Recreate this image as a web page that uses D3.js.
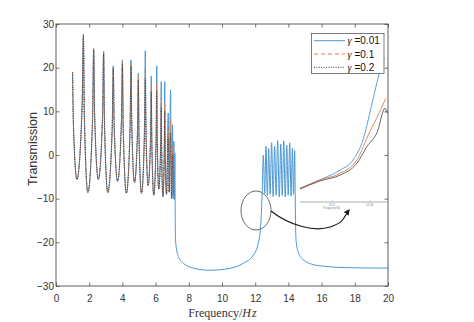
<!DOCTYPE html>
<html>
<head>
<meta charset="utf-8">
<script src="https://cdn.jsdelivr.net/npm/d3@7"></script>
<style>
  html, body { margin: 0; padding: 0; background: #fff; }
  svg { display: block; }
</style>
</head>
<body>
<svg id="chart" width="474" height="322"></svg>
<script>
// ---- axis ticks ----
const xTicks = [0, 2, 4, 6, 8, 10, 12, 14, 16, 18, 20];
const yTicks = [-30, -20, -10, 0, 10, 20, 30];
const gammaLabels = ["0.01", "0.1", "0.2"];

// ---- transmission (dB) against frequency (Hz) ----
const transG001 = [
  [1.00,19.0],[1.052,6.7],[1.26,-5.6],[1.572,11.1],[1.65,27.7],[1.704,9.6],[1.92,-8.6],
  [2.20,7.9],[2.27,24.4],[2.326,9.4],[2.55,-5.6],[2.806,9.1],[2.87,23.8],[2.92,7.6],[3.12,-8.6],
  [3.384,5.9],[3.45,20.4],[3.502,7.2],[3.71,-6.0],[3.942,7.9],[4.00,21.8],[4.048,6.6],[4.24,-8.7],
  [4.464,6.6],[4.52,21.8],[4.562,7.8],[4.73,-6.3],[4.914,6.2],[4.96,18.7],[4.998,5.0],[5.15,-8.8],
  [5.334,7.6],[5.38,23.9],[5.414,8.5],[5.55,-7.0],[5.702,5.6],[5.74,18.1],[5.77,4.5],[5.89,-9.2],
  [6.034,5.6],[6.07,20.4],[6.094,6.3],[6.19,-7.8],[6.31,4.5],[6.34,16.8],[6.36,3.7],[6.44,-9.5],
  [6.528,3.7],[6.55,16.8],[6.572,3.9],[6.66,-9.0],[6.76,9.6],[6.82,-8.5],[6.90,14.9],[6.96,-10.0],
  [7.02,6.9],[7.06,-10.0],[7.10,3.1],[7.13,-10.2],[7.16,0.5],[7.18,-12.0],[7.19,-17.0],[7.21,-20.0],
  [7.37,-23.2],[7.67,-24.8],[8.27,-25.9],[9.28,-26.4],[10.28,-26.1],[11.28,-24.8],[11.89,-22.9],
  [12.19,-20.2],[12.35,-14.9],[12.42,-8.5],[12.49,0.0],[12.57,-8.8],[12.65,2.0],[12.73,-9.3],
  [12.81,1.5],[12.90,-9.0],[12.99,2.8],[13.08,-9.5],[13.17,2.0],[13.26,-9.2],[13.35,3.3],[13.45,-9.6],
  [13.54,2.5],[13.63,-9.3],[13.72,3.2],[13.81,-9.6],[13.90,2.2],[13.99,-9.2],[14.08,2.8],[14.16,-9.4],
  [14.24,1.5],[14.31,-9.0],[14.38,1.0],[14.41,-9.0],[14.43,-15.0],[14.46,-19.5],[14.6,-22.3],
  [14.9,-24.0],[15.4,-25.0],[16.2,-25.5],[17.5,-25.8],[20,-25.9]
];

const transG01 = [
  [1.00,19.0],[1.052,6.7],[1.26,-5.6],[1.572,11.0],[1.65,27.5],[1.704,9.5],[1.92,-8.6],
  [2.20,7.8],[2.27,24.2],[2.326,9.3],[2.55,-5.6],[2.806,9.0],[2.87,23.5],[2.92,7.5],[3.12,-8.6],
  [3.384,5.8],[3.45,20.2],[3.502,7.1],[3.71,-6.0],[3.942,7.7],[4.00,21.3],[4.048,6.3],[4.24,-8.7],
  [4.464,6.2],[4.52,21.0],[4.562,7.4],[4.73,-6.3],[4.914,5.9],[4.96,18.0],[4.998,4.6],[5.15,-8.8],
  [5.334,5.4],[5.38,19.5],[5.414,6.3],[5.55,-7.0],[5.702,4.5],[5.74,16.0],[5.77,3.4],[5.89,-9.2],
  [6.034,3.7],[6.07,16.5],[6.094,4.4],[6.19,-7.8],[6.31,2.6],[6.34,13.0],[6.36,1.8],[6.44,-9.5],
  [6.528,1.3],[6.55,12.0],[6.572,1.5],[6.66,-9.0],[6.76,6.0],[6.82,-8.5],[6.90,8.0],[6.96,-10.0],
  [7.02,2.0],[7.06,-9.5]
];

const transG02 = [
  [1.00,18.9],[1.052,6.6],[1.26,-5.6],[1.572,10.9],[1.65,27.3],[1.704,9.4],[1.92,-8.6],
  [2.20,7.7],[2.27,24.0],[2.326,9.2],[2.55,-5.6],[2.806,8.8],[2.87,23.2],[2.92,7.3],[3.12,-8.6],
  [3.384,5.7],[3.45,19.9],[3.502,7.0],[3.71,-6.0],[3.942,7.4],[4.00,20.8],[4.048,6.0],[4.24,-8.7],
  [4.464,5.8],[4.52,20.3],[4.562,7.0],[4.73,-6.3],[4.914,5.5],[4.96,17.2],[4.998,4.2],[5.15,-8.8],
  [5.334,4.4],[5.38,17.5],[5.414,5.3],[5.55,-7.0],[5.702,3.8],[5.74,14.5],[5.77,2.7],[5.89,-9.2],
  [6.034,2.7],[6.07,14.5],[6.094,3.4],[6.19,-7.8],[6.31,1.6],[6.34,11.0],[6.36,0.8],[6.44,-9.5],
  [6.528,0.3],[6.55,10.0],[6.572,0.5],[6.66,-9.0],[6.76,4.0],[6.82,-8.5],[6.90,5.0],[6.96,-10.0],
  [7.02,0.0],[7.06,-9.3]
];

// ---- magnified view of the band edge near 12.3 Hz ----
const insetXTicks = [12.3, 12.35];
const insetG001 = [[12.258,-22.65],[12.289,-21.66],[12.311,-20.85],[12.328,-19.86],[12.341,-17.89],[12.352,-14.60],[12.362,-11.48],[12.369,-9.80]];
const insetG01  = [[12.258,-22.67],[12.284,-21.83],[12.311,-21.17],[12.333,-19.86],[12.350,-17.07],[12.359,-15.75],[12.371,-13.78]];
const insetG02  = [[12.258,-22.72],[12.284,-21.93],[12.311,-21.34],[12.333,-20.18],[12.346,-18.55],[12.360,-17.07],[12.370,-14.76],[12.373,-15.25]];

// ---- styling ----
const colors = ["#4a97d4", "#e27d52", "#3a3a3a"];
const dashes = [null, "4,3", "1,1.4"];
const axisColor = "#4d4d4d";
const textColor = "#333";

const svg = d3.select("#chart");
const m = { left: 56, right: 388, top: 24, bottom: 286 };

const x = d3.scaleLinear().domain([0, 20]).range([m.left, m.right]);
const y = d3.scaleLinear().domain([-30, 30]).range([m.bottom, m.top]);

svg.append("defs").append("clipPath").attr("id", "plotClip")
  .append("rect")
  .attr("x", m.left).attr("y", m.top)
  .attr("width", m.right - m.left).attr("height", m.bottom - m.top);

// ---- series ----
const line = d3.line()
  .x(d => x(d[0])).y(d => y(d[1]))
  .curve(d3.curveMonotoneX);

const seriesG = svg.append("g").attr("clip-path", "url(#plotClip)");
[transG001, transG01, transG02].forEach((data, i) => {
  seriesG.append("path")
    .datum(data)
    .attr("d", line)
    .attr("fill", "none")
    .attr("stroke", colors[i])
    .attr("stroke-width", 1)
    .attr("stroke-dasharray", dashes[i]);
});

// ---- axes (ticks on all four sides, pointing inward) ----
const tick = 3.5;
function styleAxis(g) {
  g.select(".domain").remove();
  g.selectAll(".tick line").attr("stroke", axisColor).attr("stroke-width", 0.8);
  g.selectAll(".tick text")
    .attr("fill", textColor)
    .style("font-family", "'Liberation Sans', Arial, sans-serif")
    .style("font-size", "10px");
}

svg.append("g")
  .attr("transform", `translate(0,${m.bottom})`)
  .call(d3.axisBottom(x).tickValues(xTicks).tickSizeInner(-tick).tickSizeOuter(0).tickPadding(9))
  .call(styleAxis);

svg.append("g")
  .attr("transform", `translate(0,${m.top})`)
  .call(d3.axisTop(x).tickValues(xTicks).tickSizeInner(-tick).tickSizeOuter(0).tickFormat(""))
  .call(styleAxis);

svg.append("g")
  .attr("transform", `translate(${m.left},0)`)
  .call(d3.axisLeft(y).tickValues(yTicks).tickSizeInner(-tick).tickSizeOuter(0).tickPadding(2))
  .call(styleAxis);

svg.append("g")
  .attr("transform", `translate(${m.right},0)`)
  .call(d3.axisRight(y).tickValues(yTicks).tickSizeInner(-tick).tickSizeOuter(0).tickFormat(""))
  .call(styleAxis);

svg.append("rect")
  .attr("x", m.left).attr("y", m.top)
  .attr("width", m.right - m.left).attr("height", m.bottom - m.top)
  .attr("fill", "none").attr("stroke", axisColor).attr("stroke-width", 0.9);

// ---- axis titles ----
svg.append("text")
  .attr("transform", `translate(36.5,${(m.top + m.bottom) / 2 - 6}) rotate(-90)`)
  .attr("text-anchor", "middle")
  .attr("fill", textColor)
  .style("font-family", "'Liberation Sans', Arial, sans-serif")
  .style("font-size", "12.5px")
  .text("Transmission");

const xTitle = svg.append("text")
  .attr("x", (m.left + m.right) / 2 + 0.5).attr("y", 316.5)
  .attr("text-anchor", "middle")
  .attr("fill", textColor)
  .style("font-family", "'Liberation Serif', 'DejaVu Serif', serif")
  .style("font-size", "12px");
xTitle.append("tspan").text("Frequency/");
xTitle.append("tspan").style("font-style", "italic").text("H");
xTitle.append("tspan").style("font-style", "italic").attr("dx", 1).text("z");

// ---- callout: ellipse and curved arrow ----
svg.append("ellipse")
  .attr("cx", 256).attr("cy", 210.5).attr("rx", 15).attr("ry", 19.5)
  .attr("fill", "none").attr("stroke", "#6a6a6a").attr("stroke-width", 1);

svg.select("defs").append("marker")
  .attr("id", "arrowHead")
  .attr("viewBox", "0 0 10 10").attr("refX", 8).attr("refY", 5)
  .attr("markerWidth", 5).attr("markerHeight", 5).attr("orient", "auto")
  .append("path").attr("d", "M0,0 L10,5 L0,10 Z").attr("fill", "#1a1a1a");

svg.append("path")
  .attr("d", "M271,211 C290,226 315,232 330,227 S343,218 349,210")
  .attr("fill", "none").attr("stroke", "#1a1a1a").attr("stroke-width", 1.2)
  .attr("marker-end", "url(#arrowHead)");

// ---- magnified inset ----
const ix = d3.scaleLinear().domain([12.258, 12.374]).range([300, 388]);
const iy = d3.scaleLinear().domain([-24, -10]).range([202, 60]);
const inset = svg.append("g");

inset.append("line")
  .attr("x1", 300).attr("x2", 388).attr("y1", iy(-24)).attr("y2", iy(-24))
  .attr("stroke", "#9a9a9a").attr("stroke-width", 0.8);
inset.selectAll(".itick").data(insetXTicks).enter().append("line")
  .attr("x1", d => ix(d)).attr("x2", d => ix(d))
  .attr("y1", iy(-24)).attr("y2", iy(-24) - 1.5)
  .attr("stroke", "#9a9a9a").attr("stroke-width", 0.6);
inset.selectAll(".ilab").data(insetXTicks).enter().append("text")
  .attr("x", d => ix(d)).attr("y", iy(-24) + 3.5)
  .attr("text-anchor", "middle").attr("fill", "#777")
  .style("font-family", "'Liberation Sans', Arial, sans-serif")
  .style("font-size", "3px")
  .text(d => d);
inset.append("text")
  .attr("x", ix(12.3)).attr("y", iy(-24) + 6.5)
  .attr("text-anchor", "middle").attr("fill", "#777")
  .style("font-family", "'Liberation Serif', serif")
  .style("font-size", "3px")
  .text("Frequency/Hz");

const iline = d3.line().x(d => ix(d[0])).y(d => iy(d[1])).curve(d3.curveMonotoneX);
[insetG001, insetG01, insetG02].forEach((data, i) => {
  inset.append("path")
    .datum(data)
    .attr("d", iline)
    .attr("fill", "none")
    .attr("stroke", i === 2 ? "#555" : colors[i])
    .attr("stroke-width", 0.9);
});

// ---- legend ----
const lg = svg.append("g");
lg.append("rect")
  .attr("x", 311.5).attr("y", 33.5).attr("width", 72.5).attr("height", 40)
  .attr("fill", "#fff").attr("stroke", "#5a5a5a").attr("stroke-width", 0.8);
gammaLabels.forEach((lab, i) => {
  const ly = 40.7 + i * 13.3;
  lg.append("line")
    .attr("x1", 314).attr("x2", 345).attr("y1", ly).attr("y2", ly)
    .attr("stroke", colors[i]).attr("stroke-width", 1)
    .attr("stroke-dasharray", dashes[i]);
  const t = lg.append("text")
    .attr("x", 347.5).attr("y", ly + 3.5)
    .attr("fill", "#111")
    .style("font-family", "'Liberation Sans', Arial, sans-serif")
    .style("font-size", "10px");
  t.append("tspan").style("font-family", "'Liberation Serif', serif").style("font-style", "italic").text("γ");
  t.append("tspan").attr("dx", 3).text("=" + lab);
});
</script>
</body>
</html>
